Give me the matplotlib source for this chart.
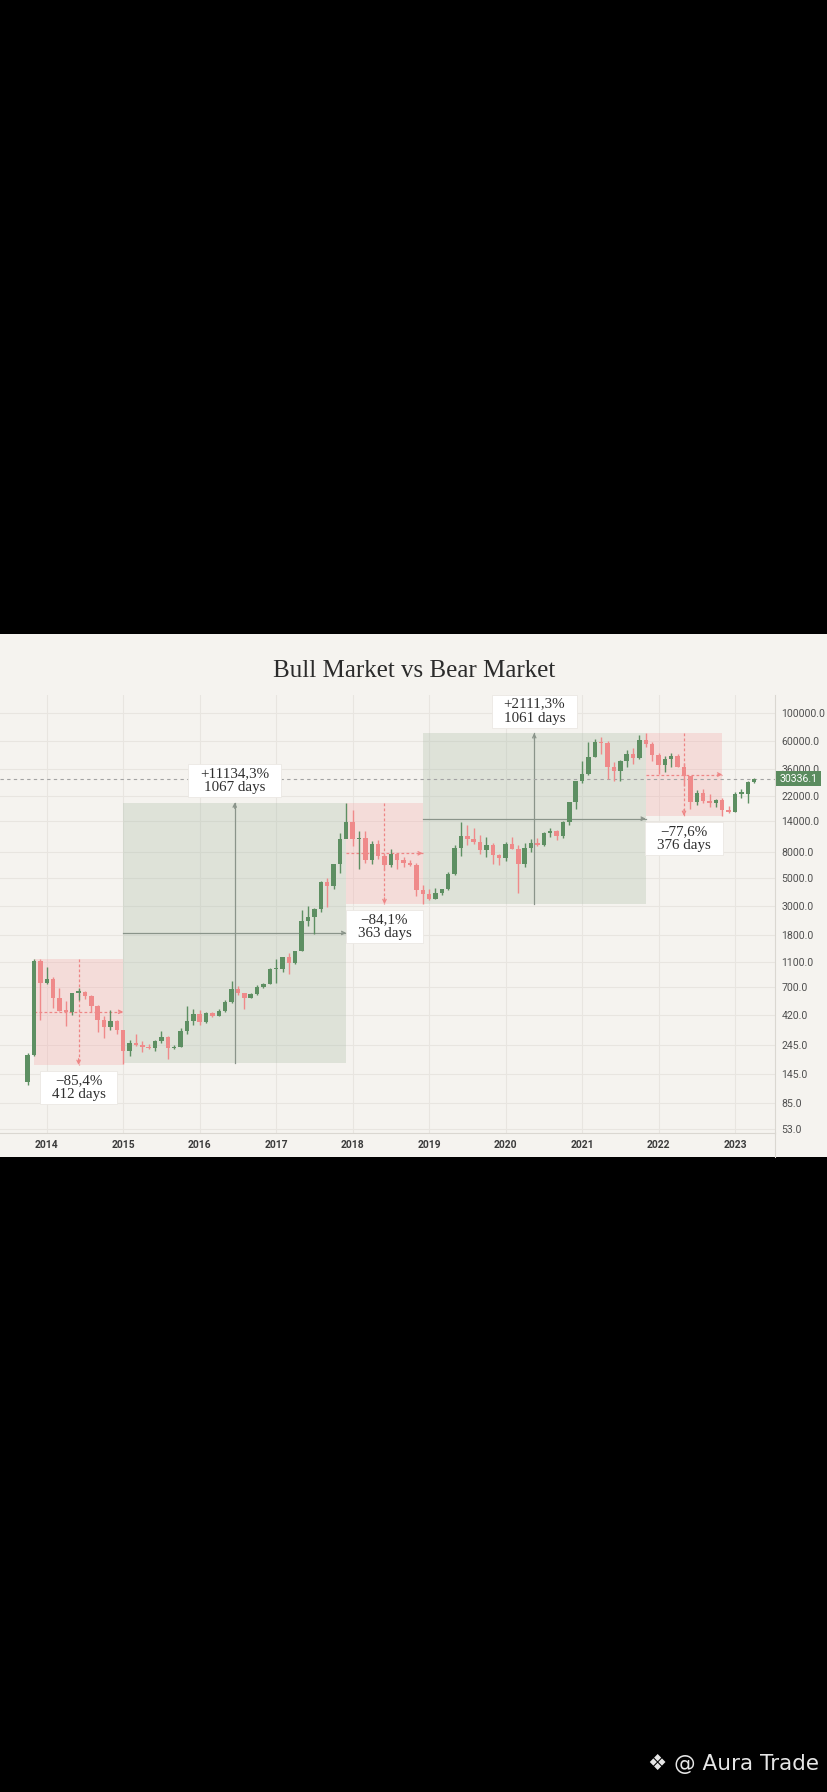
import numpy as np
import pandas as pd
import matplotlib
matplotlib.use("Agg")
import matplotlib.pyplot as plt
from matplotlib.patches import Rectangle
from matplotlib.path import Path

# ---------------- data ----------------
start_month = "2013-10"
end_month = "2023-04"

opens = [125, 203, 1110,
         746, 812, 569, 454, 445, 629, 636, 590, 495, 386, 338, 378,
         320, 217, 254, 244, 236, 230, 263, 284, 230, 236, 314, 377,
         430, 368, 437, 416, 448, 531, 673, 624, 573, 609, 698, 742,
         963, 965, 1190, 1080, 1348, 2300, 2480, 2875, 4703, 4339, 6468, 10200,
         13850, 10100, 10350, 6950, 9250, 7500, 6390, 7730, 7010, 6630, 6370, 4040,
         3740, 3460, 3850, 4100, 5350, 8570, 10800, 10080, 9600, 8300, 9150, 7550,
         7200, 9350, 8550, 6420, 8630, 9450, 9140, 11350, 11650, 10780, 13800, 19700,
         28990, 33100, 45200, 58800, 57750, 37300, 35050, 41500, 47100, 43800, 61300, 57000,
         46200, 38500, 43200, 45500, 37650, 31800, 19900, 23300, 20050, 19430, 20500, 17170,
         16540, 23140, 23150, 28470]
highs = [212, 1165, 1150,
         1007, 830, 680, 545, 630, 680, 650, 600, 500, 415, 457, 385,
         320, 265, 300, 262, 247, 267, 315, 285, 245, 330, 495, 470,
         460, 445, 440, 470, 550, 780, 705, 625, 625, 720, 755, 982,
         1150, 1200, 1300, 1350, 2790, 3000, 2920, 4750, 5000, 6500, 11400, 19666,
         17200, 11800, 11700, 9800, 10000, 7800, 8500, 7760, 7400, 7000, 6550, 4400,
         4100, 4200, 4100, 5600, 9100, 13880, 13200, 12300, 10950, 10500, 9500, 7750,
         9600, 10500, 9200, 9470, 10080, 10400, 11450, 12480, 12050, 14100, 19800, 29300,
         41950, 58350, 61800, 64900, 59600, 41300, 42300, 50500, 52900, 67000, 69000, 59100,
         48000, 45800, 48200, 47450, 40000, 31900, 24600, 25200, 22800, 20950, 21450, 18400,
         23900, 25250, 29200, 30500]
lows = [118, 199, 385,
        740, 480, 450, 345, 420, 550, 565, 440, 310, 278, 320, 300,
        172, 200, 240, 215, 225, 220, 253, 190, 225, 236, 300, 350,
        350, 365, 405, 415, 440, 520, 605, 470, 570, 605, 690, 740,
        750, 915, 885, 1060, 1345, 2100, 1835, 2710, 2970, 4100, 5500, 10900,
        9000, 5900, 6600, 6450, 7050, 5750, 6100, 5880, 6100, 6200, 3650, 3122,
        3350, 3400, 3700, 4050, 5300, 7500, 9100, 9350, 7700, 7300, 6500, 6400,
        6850, 8450, 3850, 6150, 8100, 8900, 8950, 10600, 9900, 10400, 13200, 17600,
        28100, 32300, 45000, 47000, 30000, 28800, 29300, 37300, 39600, 43300, 53300, 42000,
        32900, 34300, 37200, 37700, 26700, 17600, 18800, 19600, 18200, 18200, 15476, 16300,
        16500, 21400, 19600, 28000]
closes = [203, 1110, 746,
          812, 569, 454, 445, 629, 636, 590, 495, 386, 338, 378, 320,
          217, 254, 244, 236, 230, 263, 284, 230, 236, 314, 377, 430,
          368, 437, 416, 448, 531, 673, 624, 573, 609, 698, 742, 963,
          965, 1190, 1080, 1348, 2300, 2480, 2875, 4703, 4339, 6468, 10200, 13850,
          10100, 10350, 6950, 9250, 7500, 6390, 7730, 7010, 6630, 6370, 4040, 3740,
          3460, 3850, 4100, 5350, 8570, 10800, 10080, 9600, 8300, 9150, 7550, 7200,
          9350, 8550, 6420, 8630, 9450, 9140, 11350, 11650, 10780, 13800, 19700, 28990,
          33100, 45200, 58800, 57750, 37300, 35050, 41500, 47100, 43800, 61300, 57000, 46200,
          38500, 43200, 45500, 37650, 31800, 19900, 23300, 20050, 19430, 20500, 17170, 16540,
          23140, 23150, 28470, 30336.1]

current_price = 30336.1

year_ticks = [2014, 2015, 2016, 2017, 2018, 2019, 2020, 2021, 2022, 2023]
price_ticks = [100000, 60000, 36000, 22000, 14000, 8000, 5000, 3000, 1800,
               1100, 700, 420, 245, 145, 85, 53]

box_start = ["2013-11", "2015-01", "2017-12", "2018-12", "2021-11"]
box_end = ["2015-01", "2017-12", "2018-12", "2021-11", "2022-11"]
box_high = [1163, 19666, 19666, 69036, 69000]
box_low = [170, 175, 3127, 3122, 15456]
box_kind = ["bear", "bull", "bear", "bull", "bear"]
box_pct = ["\u221285,4%", "+11134,3%", "\u221284,1%", "+2111,3%", "\u221277,6%"]
box_days = ["412 days", "1067 days", "363 days", "1061 days", "376 days"]

title = "Bull Market vs Bear Market"
watermark = "\u2756 @ Aura Trade"

# ---------------- styles ----------------
BG = "#f5f3ef"
UP = "#5d8f62"
DOWN = "#ef8a8a"
GRID = "#e8e5e0"
W, H = 828, 1792
SERIF = ["Liberation Serif", "DejaVu Serif"]
SANS = ["Roboto", "DejaVu Sans"]


def month_pos(period):
    return period.year + (period.month - 1) / 12.0


months = pd.period_range(start_month, end_month, freq="M")
xs = np.array([month_pos(p) for p in months])
o = np.array(opens, float)
h = np.array(highs, float)
l = np.array(lows, float)
c = np.array(closes, float)

fig = plt.figure(figsize=(W / 100, H / 100), dpi=100, facecolor="black")
fig.patches.append(Rectangle((0, 1 - 1157 / H), 1, (1157 - 634) / H,
                             transform=fig.transFigure, facecolor=BG,
                             edgecolor="none", zorder=-10))

ax = fig.add_axes([0, 1 - 1133 / H, 775 / W, (1133 - 695) / H])
ax.set_zorder(1)
ax.set_facecolor(BG)
ax.set_yscale("log")
ax.set_xlim(2013.389, 2023.523)
ax.set_ylim(49.6, 137800)

# ticks and grid
ax.set_xticks(year_ticks)
ax.set_xticklabels([str(y) for y in year_ticks])
ax.set_yticks(price_ticks)
ax.set_yticklabels([f"{v:.1f}" for v in price_ticks])
ax.yaxis.set_minor_locator(matplotlib.ticker.NullLocator())
ax.grid(True, color=GRID, linewidth=0.8, zorder=0)
ax.set_axisbelow(True)
ax.yaxis.tick_right()
ax.tick_params(axis="y", length=0, pad=4.6, labelsize=7.6, labelcolor="#505050")
ax.tick_params(axis="x", length=0, pad=5.0, labelsize=7.4, labelcolor="#3a3a3a")
for lab in ax.get_yticklabels():
    lab.set_family(SANS)
for lab in ax.get_xticklabels():
    lab.set_family(SANS)
    lab.set_fontweight("bold")
for s in ["top", "left"]:
    ax.spines[s].set_visible(False)
for s in ["right", "bottom"]:
    ax.spines[s].set_color("#dad7d1")
    ax.spines[s].set_linewidth(0.8)
fig.add_artist(plt.Line2D([775 / W, 775 / W], [1 - 1157 / H, 1 - 1133 / H],
                          transform=fig.transFigure, color="#dad7d1", lw=0.8))


# label box style: wider horizontal padding than vertical
def make_box(padx, pady):
    def box(x0, y0, width, height, mutation_size):
        px = padx * mutation_size
        py = pady * mutation_size
        verts = [(x0 - px, y0 - py), (x0 + width + px, y0 - py),
                 (x0 + width + px, y0 + height + py), (x0 - px, y0 + height + py),
                 (x0 - px, y0 - py)]
        return Path(verts, closed=True)
    return box


LABEL_FS = 10.8
PADY = 0.2
pady_px = PADY * LABEL_FS * 100 / 72

# measurement boxes
for s, e, hi, lo, kind, pct, days in zip(box_start, box_end, box_high, box_low,
                                          box_kind, box_pct, box_days):
    x0 = month_pos(pd.Period(s, "M"))
    x1 = month_pos(pd.Period(e, "M"))
    cx = (x0 + x1) / 2
    cy = np.sqrt(hi * lo)
    if kind == "bull":
        fc = (0.663, 0.733, 0.651, 0.30)
        lc = "#8a948a"
        ls = "-"
    else:
        fc = (0.957, 0.639, 0.639, 0.28)
        lc = "#ee8686"
        ls = (0, (2.2, 1.8))
    ax.add_patch(Rectangle((x0, lo), x1 - x0, hi - lo, facecolor=fc,
                           edgecolor="none", zorder=1))
    ax.plot([x0, x1], [cy, cy], color=lc, lw=0.9, ls=ls, zorder=1.5)
    ax.annotate("", xy=(x1, cy), xytext=(x1 - 0.06, cy),
                arrowprops=dict(arrowstyle="->", color=lc, lw=0.9,
                                mutation_scale=6, shrinkA=0, shrinkB=0),
                zorder=1.5)
    label = f"{pct}\n{days}"
    if kind == "bull":
        ax.plot([cx, cx], [lo, hi], color=lc, lw=0.9, ls=ls, zorder=1.5)
        ax.annotate("", xy=(cx, hi), xytext=(cx, hi * 0.9),
                    arrowprops=dict(arrowstyle="->", color=lc, lw=0.9,
                                    mutation_scale=6, shrinkA=0, shrinkB=0),
                    zorder=1.5)
        ax.annotate(label, xy=(cx, hi), xytext=(0, 5.5 + pady_px),
                    textcoords="offset pixels", ha="center", va="bottom",
                    fontsize=LABEL_FS, family=SERIF, color="#2e2e2e",
                    linespacing=1.1, zorder=6, annotation_clip=False,
                    bbox=dict(boxstyle=make_box(0.78, PADY), fc="white",
                              ec="#ebe8e3", lw=0.6))
    else:
        ax.plot([cx, cx], [hi, lo], color=lc, lw=0.9, ls=ls, zorder=1.5)
        ax.annotate("", xy=(cx, lo), xytext=(cx, lo * 1.12),
                    arrowprops=dict(arrowstyle="->", color=lc, lw=0.9,
                                    mutation_scale=6, shrinkA=0, shrinkB=0),
                    zorder=1.5)
        ax.annotate(label, xy=(cx, lo), xytext=(0, -(6 + pady_px)),
                    textcoords="offset pixels", ha="center", va="top",
                    fontsize=LABEL_FS, family=SERIF, color="#2e2e2e",
                    linespacing=1.1, zorder=6, annotation_clip=False,
                    bbox=dict(boxstyle=make_box(0.78, PADY), fc="white",
                              ec="#ebe8e3", lw=0.6))

# current price line
ax.axhline(current_price, color="#a3a3a3", lw=0.8, ls=(0, (3, 3)), zorder=1.8)

# candles
up = c >= o
colors = np.where(up, UP, DOWN)
ax.vlines(xs, l, h, colors=colors, lw=1.0, zorder=3)
body_lo = np.minimum(o, c)
body_hi = np.maximum(o, c)
body_hi = np.maximum(body_hi, body_lo * 1.025)
ax.bar(xs, body_hi - body_lo, bottom=body_lo, width=0.058, color=colors,
       edgecolor="none", zorder=4)

# price label on axis
ax.annotate(f"{current_price:.1f}", xy=(1, current_price),
            xycoords=("axes fraction", "data"), xytext=(23.5, 0),
            textcoords="offset pixels", ha="center", va="center",
            fontsize=7.6, family=SANS, color="white",
            annotation_clip=False, zorder=10,
            bbox=dict(boxstyle=make_box(0.3, 0.25), fc="#5b8c5f", ec="none"))

# title
fig.text(0.5, 1 - 671 / H, title, ha="center", va="center", fontsize=18,
         family=SERIF, color="#2b2b2b")

# watermark
fig.text(734 / W, 1 - 1764 / H, watermark, ha="center", va="center",
         fontsize=15.5, family=["DejaVu Sans"], color="#e6e6e6")

fig.savefig("out.png", dpi=100, facecolor="black")
